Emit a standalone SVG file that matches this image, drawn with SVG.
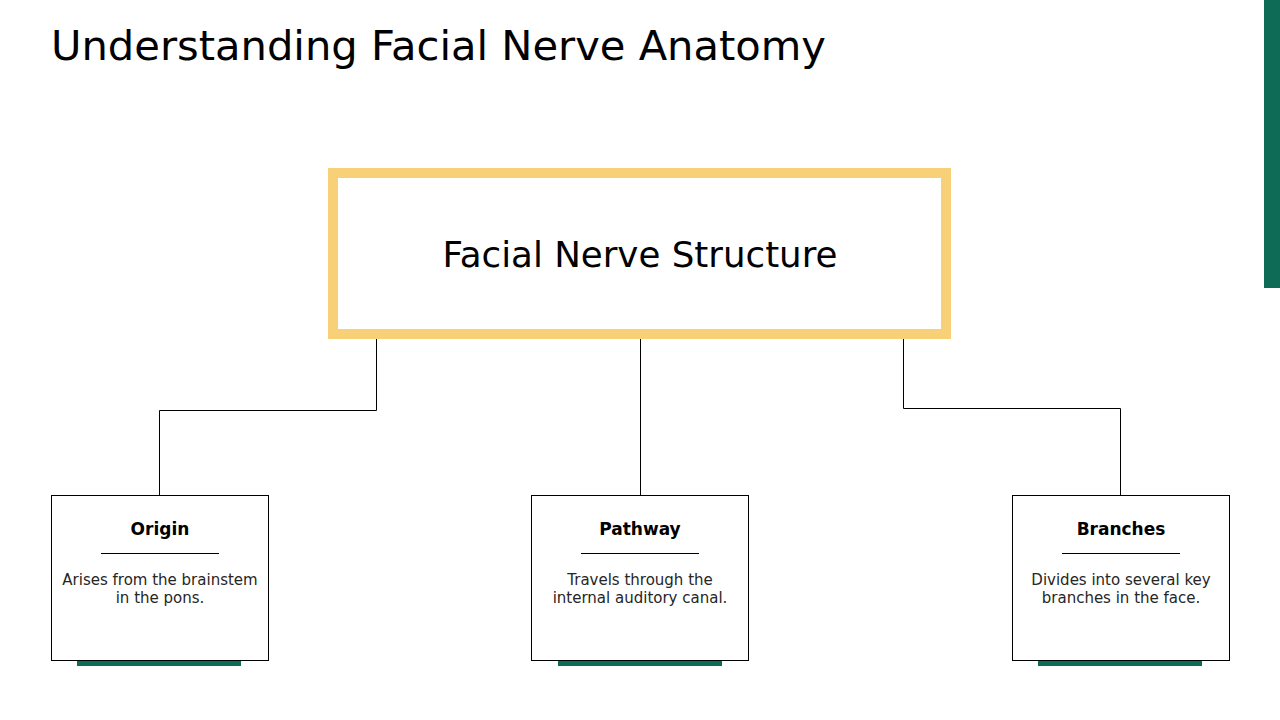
<svg xmlns="http://www.w3.org/2000/svg" width="1280" height="720" viewBox="0 0 1280 720">
<style>
.title{font-family:"DejaVu Sans",sans-serif;font-size:40px;fill:#000}
.main{font-family:"DejaVu Sans",sans-serif;font-size:36px;fill:#000;text-anchor:middle}
.head{font-family:"DejaVu Sans",sans-serif;font-size:17px;font-weight:bold;fill:#000;text-anchor:middle}
.body{font-family:"DejaVu Sans",sans-serif;font-size:15px;fill:#262626;text-anchor:middle}
.box{fill:#fff;stroke:#000;stroke-width:1}
.bar{fill:#0e6b55}
.conn{fill:none;stroke:#000;stroke-width:1}
.rule{stroke:#000;stroke-width:1}
</style>
<rect width="1280" height="720" fill="#fff"/>
<rect x="1264" y="0" width="16" height="288" class="bar"/>
<text x="51" y="60" class="title" textLength="775" lengthAdjust="spacingAndGlyphs">Understanding Facial Nerve Anatomy</text>
<g id="connectors">
<polyline class="conn" points="376.5,339 376.5,410.5 159.5,410.5 159.5,495"/>
<line class="conn" x1="640.5" y1="339" x2="640.5" y2="495"/>
<polyline class="conn" points="903.5,339 903.5,408.5 1120.5,408.5 1120.5,495"/>
</g>
<g id="root">
<rect x="333" y="173" width="613" height="161" fill="#fff" stroke="#f7d078" stroke-width="10"/>
<text x="640" y="267" class="main" textLength="395" lengthAdjust="spacingAndGlyphs">Facial Nerve Structure</text>
</g>
<g id="origin">
<rect x="77" y="658" width="164" height="8" class="bar"/>
<rect x="51.5" y="495.5" width="217" height="165" class="box"/>
<text x="160" y="535" class="head">Origin</text>
<line x1="101" y1="553.5" x2="219" y2="553.5" class="rule"/>
<text x="160" y="585" class="body">Arises from the brainstem</text>
<text x="160" y="603" class="body">in the pons.</text>
</g>
<g id="pathway">
<rect x="558" y="658" width="164" height="8" class="bar"/>
<rect x="531.5" y="495.5" width="217" height="165" class="box"/>
<text x="640" y="535" class="head">Pathway</text>
<line x1="581" y1="553.5" x2="699" y2="553.5" class="rule"/>
<text x="640" y="585" class="body">Travels through the</text>
<text x="640" y="603" class="body">internal auditory canal.</text>
</g>
<g id="branches">
<rect x="1038" y="658" width="164" height="8" class="bar"/>
<rect x="1012.5" y="495.5" width="217" height="165" class="box"/>
<text x="1121" y="535" class="head">Branches</text>
<line x1="1062" y1="553.5" x2="1180" y2="553.5" class="rule"/>
<text x="1121" y="585" class="body">Divides into several key</text>
<text x="1121" y="603" class="body">branches in the face.</text>
</g>
</svg>
